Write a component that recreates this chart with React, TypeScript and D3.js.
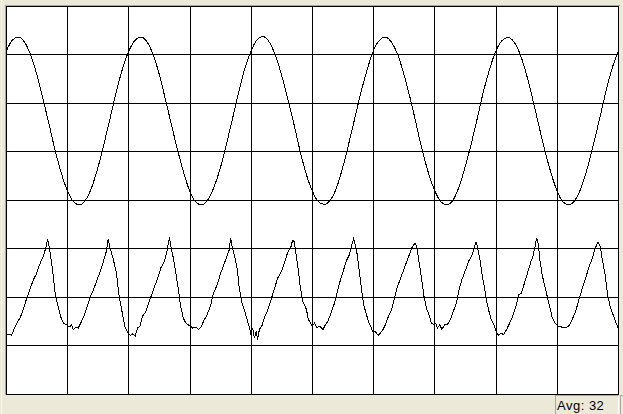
import React from "react";
import * as d3 from "d3";

// ---- data (time in divisions, amplitude in divisions from bottom of screen) ----
const timeDivisions = [0, 1, 2, 3, 4, 5, 6, 7, 8, 9, 10];
const levelDivisions = [0, 1, 2, 3, 4, 5, 6, 7, 8];

const sineStep = 0.1;
const sineValues = [
  7.06, 7.29, 7.36, 7.26, 7.0, 6.6, 6.11, 5.58, 5.04, 4.57, 4.2, 3.97, 3.9, 4.0, 4.26, 4.66, 5.15, 5.68, 6.22, 6.69,
  7.05, 7.28, 7.36, 7.27, 7.01, 6.61, 6.1, 5.57, 5.05, 4.58, 4.19, 3.96, 3.9, 4.01, 4.27, 4.65, 5.14, 5.67, 6.21, 6.7,
  7.06, 7.3, 7.37, 7.26, 6.99, 6.59, 6.11, 5.59, 5.04, 4.56, 4.2, 3.97, 3.91, 4.0, 4.25, 4.66, 5.16, 5.69, 6.22, 6.68,
  7.07, 7.29, 7.36, 7.25, 7.0, 6.6, 6.12, 5.58, 5.03, 4.57, 4.21, 3.97, 3.9, 3.99, 4.26, 4.67, 5.15, 5.68, 6.23, 6.69,
  7.06, 7.28, 7.35, 7.26, 7.01, 6.61, 6.11, 5.57, 5.04, 4.58, 4.2, 3.96, 3.9, 4.0, 4.26, 4.66, 5.15, 5.68, 6.22, 6.7,
  7.05,
];

const rippleTimes = [
  0.0, 0.01, 0.05, 0.09, 0.13, 0.18, 0.24, 0.29, 0.33, 0.38, 0.4, 0.46, 0.49, 0.52, 0.57, 0.61, 0.65, 0.68, 0.7, 0.73,
  0.77, 0.81, 0.85, 0.9, 0.94, 0.99, 1.03, 1.07, 1.1, 1.14, 1.18, 1.22, 1.27, 1.32, 1.37, 1.43, 1.49, 1.55, 1.6, 1.64,
  1.67, 1.7, 1.74, 1.8, 1.85, 1.89, 1.94, 1.99, 2.03, 2.07, 2.11, 2.15, 2.19, 2.23, 2.29, 2.35, 2.42, 2.48, 2.53, 2.59,
  2.63, 2.67, 2.7, 2.74, 2.78, 2.82, 2.85, 2.89, 2.92, 2.97, 3.01, 3.05, 3.1, 3.15, 3.19, 3.23, 3.28, 3.34, 3.39, 3.45,
  3.5, 3.56, 3.61, 3.65, 3.67, 3.7, 3.73, 3.78, 3.81, 3.85, 3.9, 3.94, 3.98, 4.0, 4.03, 4.06, 4.09, 4.11, 4.14, 4.18,
  4.22, 4.28, 4.33, 4.39, 4.44, 4.5, 4.55, 4.6, 4.66, 4.68, 4.71, 4.74, 4.78, 4.81, 4.85, 4.91, 4.94, 4.96, 5.0, 5.04,
  5.08, 5.12, 5.18, 5.22, 5.26, 5.31, 5.37, 5.41, 5.45, 5.5, 5.56, 5.61, 5.65, 5.68, 5.71, 5.74, 5.78, 5.82, 5.85, 5.89,
  5.92, 5.97, 6.0, 6.03, 6.08, 6.12, 6.16, 6.2, 6.24, 6.3, 6.34, 6.39, 6.46, 6.53, 6.58, 6.63, 6.68, 6.71, 6.74, 6.79,
  6.83, 6.87, 6.92, 6.95, 6.99, 7.02, 7.05, 7.09, 7.12, 7.17, 7.21, 7.26, 7.3, 7.36, 7.41, 7.45, 7.51, 7.56, 7.62, 7.65,
  7.68, 7.7, 7.74, 7.78, 7.81, 7.85, 7.89, 7.93, 7.98, 8.01, 8.04, 8.09, 8.13, 8.18, 8.23, 8.29, 8.34, 8.38, 8.42, 8.48,
  8.53, 8.58, 8.61, 8.64, 8.67, 8.7, 8.72, 8.76, 8.81, 8.85, 8.89, 8.92, 8.97, 9.02, 9.08, 9.13, 9.19, 9.21, 9.25, 9.31,
  9.36, 9.42, 9.47, 9.53, 9.58, 9.62, 9.67, 9.71, 9.74, 9.79, 9.83, 9.87, 9.91, 9.95, 10.0,
];

const rippleValues = [
  1.28, 1.21, 1.24, 1.21, 1.33, 1.46, 1.6, 1.77, 1.94, 2.12, 2.2, 2.39, 2.46, 2.56, 2.74, 2.84, 3.01, 3.2, 3.08, 2.84,
  2.46, 2.01, 1.81, 1.57, 1.46, 1.43, 1.38, 1.42, 1.33, 1.38, 1.36, 1.46, 1.6, 1.77, 1.98, 2.15, 2.36, 2.56, 2.77, 2.94,
  3.2, 3.01, 2.84, 2.53, 2.01, 1.74, 1.4, 1.26, 1.21, 1.24, 1.19, 1.36, 1.4, 1.6, 1.71, 1.94, 2.19, 2.39, 2.6, 2.74,
  2.94, 3.23, 3.01, 2.77, 2.46, 2.12, 1.84, 1.6, 1.5, 1.43, 1.4, 1.36, 1.38, 1.33, 1.38, 1.51, 1.62, 1.81, 2.08, 2.25,
  2.46, 2.67, 2.84, 2.98, 3.22, 3.01, 2.87, 2.56, 2.19, 1.91, 1.71, 1.53, 1.36, 1.22, 1.36, 1.15, 1.29, 1.12, 1.33, 1.4,
  1.57, 1.74, 1.94, 2.19, 2.39, 2.53, 2.7, 2.91, 3.05, 3.16, 3.15, 2.87, 2.53, 2.19, 1.91, 1.74, 1.53, 1.5, 1.4, 1.46,
  1.36, 1.4, 1.33, 1.43, 1.5, 1.67, 1.88, 2.08, 2.29, 2.49, 2.74, 2.87, 3.08, 3.2, 3.05, 2.87, 2.46, 2.05, 1.81, 1.64,
  1.5, 1.36, 1.26, 1.29, 1.21, 1.26, 1.33, 1.43, 1.57, 1.74, 1.94, 2.19, 2.43, 2.67, 2.84, 3.01, 3.11, 3.05, 2.8, 2.39,
  2.01, 1.77, 1.6, 1.46, 1.43, 1.46, 1.36, 1.43, 1.33, 1.43, 1.43, 1.53, 1.67, 1.88, 2.19, 2.36, 2.56, 2.74, 2.87, 3.01,
  3.13, 3.05, 2.8, 2.46, 2.25, 1.94, 1.71, 1.53, 1.4, 1.29, 1.21, 1.26, 1.22, 1.33, 1.46, 1.64, 1.84, 2.05, 2.08, 2.32,
  2.53, 2.74, 2.84, 3.01, 3.22, 3.08, 2.8, 2.46, 2.19, 1.98, 1.77, 1.6, 1.46, 1.4, 1.38, 1.36, 1.4, 1.43, 1.53, 1.71,
  1.94, 2.19, 2.39, 2.63, 2.8, 2.98, 3.13, 3.05, 2.8, 2.46, 2.05, 1.81, 1.67, 1.53, 1.36,
];

const statusLabel = "Avg: 32";

// ---- layout ----
const W = 623;
const H = 414;
const PLOT = { left: 6, right: 618, top: 6, bottom: 394 };
const FACE = "#ECE9D8";
const SHADOW = "#ACA899";

export default function App() {
  const x = d3.scaleLinear().domain([0, 10]).range([PLOT.left, PLOT.right]);
  const y = d3.scaleLinear().domain([0, 8]).range([PLOT.bottom, PLOT.top]);

  const sinePts: [number, number][] = sineValues.map((v, i) => [i * sineStep, v]);
  const ripplePts: [number, number][] = rippleTimes.map((t, i) => [t, rippleValues[i]]);

  const sineLine = d3
    .line<[number, number]>()
    .x((d) => x(d[0]))
    .y((d) => y(d[1]))
    .curve(d3.curveMonotoneX);
  const rippleLine = d3
    .line<[number, number]>()
    .x((d) => x(d[0]))
    .y((d) => y(d[1]));

  return (
    <svg
      width={W}
      height={H}
      style={{ position: "fixed", left: 0, top: 0, display: "block" }}
    >
      <defs>
        <clipPath id="plotClip">
          <rect x={PLOT.left} y={PLOT.top} width={PLOT.right - PLOT.left + 1} height={PLOT.bottom - PLOT.top + 1} />
        </clipPath>
      </defs>
      <rect x={0} y={0} width={W} height={H} fill={FACE} />
      <line x1={1.5} y1={0} x2={1.5} y2={H} stroke="#F7F6F1" strokeWidth={1} shapeRendering="crispEdges" />
      {/* sunken frame */}
      <line x1={5.5} y1={5} x2={5.5} y2={395} stroke={SHADOW} shapeRendering="crispEdges" />
      <line x1={5} y1={5.5} x2={620} y2={5.5} stroke={SHADOW} shapeRendering="crispEdges" />
      <rect x={PLOT.left} y={PLOT.top} width={PLOT.right - PLOT.left} height={PLOT.bottom - PLOT.top} fill="#FFFFFF" />
      {/* grid */}
      {timeDivisions.map((k) => {
        const px = Math.round(x(k)) + 0.5;
        return (
          <line key={"v" + k} x1={px} x2={px} y1={PLOT.top} y2={PLOT.bottom + 1} stroke="#000" strokeWidth={1} shapeRendering="crispEdges" />
        );
      })}
      {levelDivisions.map((k) => {
        const py = Math.floor(y(k)) + 0.5;
        return (
          <line key={"h" + k} x1={PLOT.left} x2={PLOT.right + 1} y1={py} y2={py} stroke="#000" strokeWidth={1} shapeRendering="crispEdges" />
        );
      })}
      {/* traces */}
      <g clipPath="url(#plotClip)">
        <path d={sineLine(sinePts) || ""} fill="none" stroke="#000" strokeWidth={1} shapeRendering="crispEdges" />
        <path d={rippleLine(ripplePts) || ""} fill="none" stroke="#000" strokeWidth={1} shapeRendering="crispEdges" />
      </g>
      {/* status bar panel */}
      <line x1={555} y1={395.5} x2={618} y2={395.5} stroke={SHADOW} shapeRendering="crispEdges" />
      <line x1={555.5} y1={395} x2={555.5} y2={H} stroke={SHADOW} shapeRendering="crispEdges" />
      <line x1={618.5} y1={396} x2={618.5} y2={H} stroke="#FFFFFF" shapeRendering="crispEdges" />
      <line x1={620.5} y1={395} x2={620.5} y2={H} stroke={SHADOW} shapeRendering="crispEdges" />
      <line x1={620} y1={395.5} x2={W} y2={395.5} stroke={SHADOW} shapeRendering="crispEdges" />
      <text
        x={557}
        y={410}
        fontFamily="'Liberation Sans', Arial, sans-serif"
        fontSize={13}
        letterSpacing={0.5}
        fill="#000"
      >
        {statusLabel}
      </text>
    </svg>
  );
}
